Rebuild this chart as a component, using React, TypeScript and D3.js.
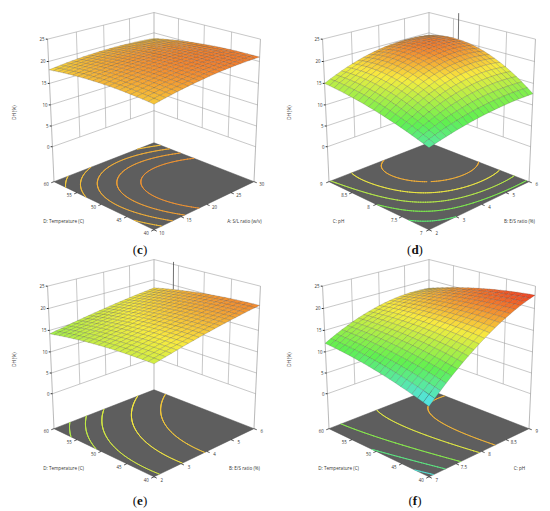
import * as d3 from 'd3';
import React from 'react';

// axis ticks
const ticksDH = [0, 5, 10, 15, 20, 25];
const ticksSL = [10, 15, 20, 25, 30];
const ticksES = [2, 3, 4, 5, 6];
const ticksPH = [7, 7.5, 8, 8.5, 9];
const ticksTemp = [40, 45, 50, 55, 60];

// DH (%) read off the surfaces at low / centre / high level of each factor
// rows: left-hand factor (low -> high), columns: right-hand factor (low -> high)
const dhC = [[18.6, 20.5, 21.0], [19.1, 20.5, 20.5], [18.1, 19.1, 18.6]];
const dhD = [[9.5, 12.0, 12.6], [13.1, 19.4, 19.55], [15.0, 19.3, 19.4]];
const dhE = [[16.0, 18.7, 20.7], [15.7, 18.15, 19.95], [14.2, 16.4, 18.0]];
const dhF = [[7.0, 17.2, 23.0], [10.3, 17.9, 21.2], [12.0, 17.1, 17.9]];

// contour levels on the floor
const contoursC = [18.5, 18.95, 19.4, 19.85, 20.3];
const contoursD = [11.0, 13.1, 15.2, 17.3, 19.4];
const contoursE = [14.9, 15.6, 16.3, 17.5, 18.6];
const contoursF = [8, 10.5, 13.5, 16.8, 19.2];

// design points shown above the surface: [right factor, left factor, DH]
const pointsC: number[][] = [];
const pointsD = [[6, 8.4, 26.6]];
const pointsE = [[6, 56, 25.6]];
const pointsF: number[][] = [];

const panels = [
  { id: 'c', left: 'D: Temperature (C)', right: 'A: S/L ratio (w/v)', leftTicks: ticksTemp, rightTicks: ticksSL, dh: dhC, levels: contoursC, points: pointsC, ox: 0, oy: 0, capY: 254 },
  { id: 'd', left: 'C: pH', right: 'B: E/S ratio (%)', leftTicks: ticksPH, rightTicks: ticksES, dh: dhD, levels: contoursD, points: pointsD, ox: 275, oy: 0, capY: 254 },
  { id: 'e', left: 'D: Temperature (C)', right: 'B: E/S ratio (%)', leftTicks: ticksTemp, rightTicks: ticksES, dh: dhE, levels: contoursE, points: pointsE, ox: 0, oy: 247, capY: 505 },
  { id: 'f', left: 'D: Temperature (C)', right: 'C: pH', leftTicks: ticksTemp, rightTicks: ticksPH, dh: dhF, levels: contoursF, points: pointsF, ox: 275, oy: 247, capY: 505 },
];

// camera
const PHI = (21.1 * Math.PI) / 180;
const DIST = 12.03;
const FOCAL = 876;
const CX = 154;
const CY = 115.7;
const W_FLOOR = -1;
const wScale = d3.scaleLinear().domain([0, 25]).range([-0.463, 1.09]);
const W_TOP = wScale(25);

const colorScale = d3
  .scaleLinear<string>()
  .domain([2, 7, 12, 17.5, 23.5])
  .range(['#3050ff', '#50e0f8', '#60f050', '#f8ec40', '#ee3020'])
  .clamp(true);

function project(u: number, v: number, w: number) {
  const p = (u - v) / Math.SQRT2;
  const q = -(u + v) / Math.SQRT2;
  const s = Math.sin(PHI);
  const c = Math.cos(PHI);
  const yc = -q * s + w * c;
  const zc = q * c + w * s;
  const f = FOCAL / (DIST - zc);
  return [CX + p * f, CY - yc * f, zc];
}

const lagr = (t: number) => [(t * (t - 1)) / 2, 1 - t * t, (t * (t + 1)) / 2];

const pt = (u: number, v: number, w: number) => {
  const r = project(u, v, w);
  return `${r[0].toFixed(2)},${r[1].toFixed(2)}`;
};

const Panel = ({ cfg }: any) => {
  const uScale = d3.scaleLinear().domain(d3.extent(cfg.rightTicks) as [number, number]).range([-1, 1]);
  const vScale = d3.scaleLinear().domain(d3.extent(cfg.leftTicks) as [number, number]).range([-1, 1]);

  const dhAt = (u: number, v: number) => {
    const lu = lagr(u);
    const lv = lagr(v);
    let s = 0;
    for (let i = 0; i < 3; i++) for (let j = 0; j < 3; j++) s += lv[i] * lu[j] * cfg.dh[i][j];
    return s;
  };

  // surface mesh
  const N = 20;
  const g = d3.range(N + 1).map((i) => -1 + (2 * i) / N);
  const quads: any[] = [];
  for (let i = 0; i < N; i++) {
    for (let j = 0; j < N; j++) {
      const cs = [
        [g[i], g[j]],
        [g[i + 1], g[j]],
        [g[i + 1], g[j + 1]],
        [g[i], g[j + 1]],
      ];
      const vals = cs.map(([u, v]) => dhAt(u, v));
      const proj = cs.map(([u, v], k) => project(u, v, wScale(vals[k])));
      quads.push({
        key: `${i}-${j}`,
        pts: proj.map((p) => `${p[0].toFixed(2)},${p[1].toFixed(2)}`).join(' '),
        depth: d3.mean(proj, (p) => p[2]) as number,
        color: colorScale(d3.mean(vals) as number),
      });
    }
  }
  quads.sort((a, b) => a.depth - b.depth);

  // floor contours (marching squares)
  const M = 90;
  const cg = d3.range(M + 1).map((i) => -1 + (2 * i) / M);
  const field = cg.map((v) => cg.map((u) => dhAt(u, v)));
  const contourPaths = cfg.levels.map((L: number) => {
    let d = '';
    for (let a = 0; a < M; a++) {
      for (let b = 0; b < M; b++) {
        const corners = [
          [cg[b], cg[a], field[a][b]],
          [cg[b + 1], cg[a], field[a][b + 1]],
          [cg[b + 1], cg[a + 1], field[a + 1][b + 1]],
          [cg[b], cg[a + 1], field[a + 1][b]],
        ];
        const hits: number[][] = [];
        for (let k = 0; k < 4; k++) {
          const p0 = corners[k];
          const p1 = corners[(k + 1) % 4];
          if ((p0[2] - L) * (p1[2] - L) < 0) {
            const t = (L - p0[2]) / (p1[2] - p0[2]);
            hits.push([p0[0] + t * (p1[0] - p0[0]), p0[1] + t * (p1[1] - p0[1])]);
          }
        }
        for (let k = 0; k + 1 < hits.length; k += 2) {
          const A = project(hits[k][0], hits[k][1], W_FLOOR);
          const B = project(hits[k + 1][0], hits[k + 1][1], W_FLOOR);
          d += `M${A[0].toFixed(2)},${A[1].toFixed(2)}L${B[0].toFixed(2)},${B[1].toFixed(2)}`;
        }
      }
    }
    return { L, d };
  });

  const w0 = wScale(0);
  const gridColor = '#9a9a9a';
  const font = "'Open Sans', 'Liberation Sans', sans-serif";
  const zLeft = project(-1, 1, (W_FLOOR + W_TOP) / 2);

  return (
    <g transform={`translate(${cfg.ox},${cfg.oy})`}>
      {/* back walls */}
      {ticksDH.map((z) => (
        <polyline
          key={`h${z}`}
          points={`${pt(-1, 1, wScale(z))} ${pt(1, 1, wScale(z))} ${pt(1, -1, wScale(z))}`}
          fill="none"
          stroke={gridColor}
          strokeWidth={0.55}
        />
      ))}
      {cfg.rightTicks.slice(1, -1).map((t: number) => (
        <line
          key={`vu${t}`}
          x1={project(uScale(t), 1, w0)[0]}
          y1={project(uScale(t), 1, w0)[1]}
          x2={project(uScale(t), 1, W_TOP)[0]}
          y2={project(uScale(t), 1, W_TOP)[1]}
          stroke={gridColor}
          strokeWidth={0.55}
        />
      ))}
      {cfg.leftTicks.slice(1, -1).map((t: number) => (
        <line
          key={`vv${t}`}
          x1={project(1, vScale(t), w0)[0]}
          y1={project(1, vScale(t), w0)[1]}
          x2={project(1, vScale(t), W_TOP)[0]}
          y2={project(1, vScale(t), W_TOP)[1]}
          stroke={gridColor}
          strokeWidth={0.55}
        />
      ))}
      {[
        [-1, 1],
        [1, 1],
        [1, -1],
      ].map(([u, v]) => (
        <line
          key={`e${u}${v}`}
          x1={project(u, v, W_FLOOR)[0]}
          y1={project(u, v, W_FLOOR)[1]}
          x2={project(u, v, W_TOP)[0]}
          y2={project(u, v, W_TOP)[1]}
          stroke="#8a8a8a"
          strokeWidth={0.6}
        />
      ))}

      {/* floor */}
      <polygon
        points={`${pt(-1, -1, W_FLOOR)} ${pt(1, -1, W_FLOOR)} ${pt(1, 1, W_FLOOR)} ${pt(-1, 1, W_FLOOR)}`}
        fill="#5e5e5e"
        stroke="#4a4a4a"
        strokeWidth={0.5}
      />
      {contourPaths.map((c: any) => (
        <path key={c.L} d={c.d} fill="none" stroke={colorScale(c.L)} strokeWidth={0.9} strokeLinecap="round" />
      ))}

      {/* floor ticks */}
      {cfg.rightTicks.map((t: number) => {
        const u = uScale(t);
        const a = project(u, -1, W_FLOOR);
        const b = project(u, -1.05, W_FLOOR);
        const l = project(u, -1.12, W_FLOOR);
        return (
          <g key={`rt${t}`}>
            <line x1={a[0]} y1={a[1]} x2={b[0]} y2={b[1]} stroke="#111" strokeWidth={0.7} />
            <text x={l[0] + 1} y={l[1]} fontSize={4.4} fontFamily={font} fill="#333" textAnchor="middle" dominantBaseline="central">
              {t}
            </text>
          </g>
        );
      })}
      {cfg.leftTicks.map((t: number) => {
        const v = vScale(t);
        const a = project(-1, v, W_FLOOR);
        const b = project(-1.05, v, W_FLOOR);
        const l = project(-1.12, v, W_FLOOR);
        return (
          <g key={`lt${t}`}>
            <line x1={a[0]} y1={a[1]} x2={b[0]} y2={b[1]} stroke="#111" strokeWidth={0.7} />
            <text x={l[0] - 1} y={l[1]} fontSize={4.4} fontFamily={font} fill="#333" textAnchor="middle" dominantBaseline="central">
              {t}
            </text>
          </g>
        );
      })}

      {/* z axis */}
      {ticksDH.map((z) => {
        const a = project(-1, 1, wScale(z));
        return (
          <g key={`zt${z}`}>
            <line x1={a[0] - 1.8} y1={a[1]} x2={a[0]} y2={a[1]} stroke="#111" strokeWidth={0.9} />
            <text x={a[0] - 3} y={a[1]} fontSize={4.4} fontFamily={font} fill="#333" textAnchor="end" dominantBaseline="central">
              {z}
            </text>
          </g>
        );
      })}

      {/* design points: drop line from the point to the surface */}
      {cfg.points.map((d: number[], k: number) => {
        const u = uScale(d[0]);
        const v = vScale(d[1]);
        const top = project(u, v, wScale(d[2]));
        const bot = project(u, v, wScale(dhAt(u, v)));
        return <line key={`dp${k}`} x1={top[0]} y1={top[1]} x2={bot[0]} y2={bot[1]} stroke="#333" strokeWidth={0.7} />;
      })}

      {/* surface */}
      {quads.map((q) => (
        <polygon key={q.key} points={q.pts} fill={q.color} stroke="#3c3c3c" strokeOpacity={0.55} strokeWidth={0.35} />
      ))}

      {/* axis titles */}
      <text
        x={project(0, -1.65, W_FLOOR)[0]}
        y={project(0, -1.65, W_FLOOR)[1] + 2}
        fontSize={4.6}
        fontFamily={font}
        fill="#333"
        textAnchor="middle"
      >
        {cfg.right}
      </text>
      <text
        x={project(-1.65, 0, W_FLOOR)[0]}
        y={project(-1.65, 0, W_FLOOR)[1] + 2}
        fontSize={4.6}
        fontFamily={font}
        fill="#333"
        textAnchor="middle"
      >
        {cfg.left}
      </text>
      <text
        transform={`translate(${zLeft[0] - 37},${zLeft[1]}) rotate(-90)`}
        fontSize={4.6}
        fontFamily={font}
        fill="#333"
        textAnchor="middle"
        dominantBaseline="central"
      >
        DH (%)
      </text>

      <text x={140} y={cfg.capY - cfg.oy} fontSize={13} fontFamily="'Liberation Serif', serif" textAnchor="middle" fill="#111">
        (<tspan fontWeight="bold">{cfg.id}</tspan>)
      </text>
    </g>
  );
};

export default function App() {
  return (
    <svg width={550} height={511} style={{ position: 'absolute', left: 0, top: 0, background: '#fff' }}>
      {panels.map((p) => (
        <Panel key={p.id} cfg={p} />
      ))}
    </svg>
  );
}
